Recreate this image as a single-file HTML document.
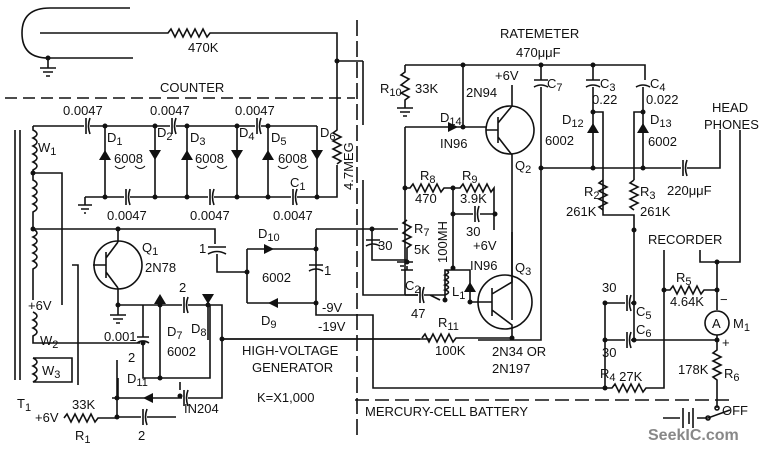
<!DOCTYPE html>
<html><head><meta charset="utf-8"><style>
html,body{margin:0;padding:0;background:#fff;}
svg{display:block;}
text{font-family:"Liberation Sans",sans-serif;font-size:13px;fill:#111;}
.s{font-size:11px;}
</style></head><body>
<svg width="768" height="450" viewBox="0 0 768 450" xmlns="http://www.w3.org/2000/svg">
<g fill="none" stroke="#111" stroke-width="1.6">
<path d="M130,8 H50 Q22,8 22,33 Q22,58 48,58 H133"/>
<path d="M40,33 H168 l3,-4 l4,8 l4,-8 l4,8 l4,-8 l4,8 l4,-8 l4,8 l4,-8 l4,8 l3,-4 H337 V61 H363"/>
<path d="M48,58 V68 M40,68 H56 M43,72 H53 M46,76 H50"/>
<path d="M5,98 H355" stroke-dasharray="12,6"/>
<path d="M357,20 V440" stroke-dasharray="16,5"/>
<path d="M355,400 H735" stroke-dasharray="14,6"/>
<path d="M363,61 V125 M363,180 V295 H418"/>
<path d="M33,126 H84 M90,126 H170 M176,126 H255 M261,126 H317"/>
<path d="M86,118 V134 M90,118 Q87,126 90,134 M172,118 V134 M176,118 Q173,126 176,134 M257,118 V134 M261,118 Q258,126 261,134"/>
<path d="M85,197 H124 M130,197 H208 M214,197 H291 M297,197 H337 V165"/>
<path d="M126,189 V205 M130,189 Q127,197 130,205 M210,189 V205 M214,189 Q211,197 214,205 M293,189 V205 M297,189 Q294,197 297,205"/>
<path d="M85,197 V205 M78,205 H92 M81,209 H89 M84,213 H86"/>
<path d="M105,126 V197 M155,126 V197 M187,126 V197 M237,126 V197 M268,126 V197 M317,126 V197"/>
<path d="M337,61 V130 l-4,3 l8,4 l-8,4 l8,4 l-8,4 l8,4 l-8,4 l8,4 l-4,3"/>
<path d="M115,166 q5,5 10,0 M145,166 q-5,5 -10,0 M197,166 q5,5 10,0 M227,166 q-5,5 -10,0 M278,166 q5,5 10,0 M308,166 q-5,5 -10,0" stroke-width="1"/>
<path d="M15,130 V380 M20,130 V380"/>
<path d="M33,126 V130 q8,4 0,8 q8,4 0,8 q8,4 0,8 q8,4 0,8 q8,4 0,8 V180 q8,4 0,8 q8,4 0,8 q8,4 0,8 q8,4 0,8 V229 q8,4 0,8 q8,4 0,8 q8,4 0,8 q8,4 0,8 q8,4 0,8 V300"/>
<path d="M33,173 H62 V305 M33,229 H215 V244 M118,229 V242"/>
<path d="M33,312 q8,4 0,8 q8,4 0,8 q8,4 0,8 V343 H140"/>
<path d="M33,358 q8,4 0,8 q8,4 0,8 q8,4 0,8 H72 V358 H33"/>
<path d="M72,265 H78 V385 M118,288 V305 H143 M118,305 V315 M110,315 H126 M113,319 H123 M116,323 H120"/>
<path d="M208,247 H226 M208,254 Q217,249 226,254 M217,254 V272 H247"/>
<circle cx="118" cy="265" r="24"/>
<path d="M93,265 H106 M106,252 V278 M106,258 L118,242 M106,272 L118,288"/>
<path d="M143,305 V337 M137,337 H149 M137,343 Q143,339 149,343 M143,343 V378 H210 V305 M143,305 H182 M188,305 H222 V339 H430"/>
<path d="M184,297 V313 M188,297 Q185,305 188,313"/>
<path d="M160,305 V378 M208,305 V340"/>
<path d="M118,378 V398 H112 M117,398 H182 M188,398 H222 V339"/>
<path d="M184,390 V406 M188,390 Q185,398 188,406 M180,382 V390"/>
<path d="M117,360 V417 H141 M147,417 H176 M64,418 l3,-4 l4,8 l4,-8 l4,8 l4,-8 l4,8 l4,-8 l4,8 l3,-4 H117"/>
<path d="M143,409 V425 M147,409 Q144,417 147,425"/>
<path d="M247,249 V303 M316,229 V303 M247,249 H316 M247,303 H316 M316,229 H370"/>
<path d="M309,265 H323 M309,271 Q316,267 323,271"/>
<path d="M316,303 V315 H373 V388 H605"/>
<path d="M405,65 H645 V80 M405,65 V72 l-4,3 l8,4 l-4,3 l-4,3 l8,4 l-8,4 l8,4 l-4,3 V108 M397,108 H413 M400,112 H410 M403,116 H407"/>
<path d="M463,65 V127 M405,127 H463 H486 M405,127 V295"/>
<circle cx="510" cy="130" r="24"/>
<path d="M486,130 H498 M498,117 V143 M498,123 L512,106 V85 M498,137 L512,155 V320"/>
<path d="M541,65 V80 M534,80 H548 M534,87 Q541,83 548,87 M541,87 V168 V340 H478"/>
<path d="M593,65 V80 M586,80 H600 M586,87 Q593,83 600,87 M593,87 V168 M593,112 H603 V215 H634 V340"/>
<path d="M643,87 V168 M636,87 Q643,83 650,87 M643,112 H634 V180 M541,168 H681 M687,168 H720 V130 M740,130 V262 H717"/>
<path d="M683,160 V176 M687,160 Q684,168 687,176"/>
<path d="M603,180 l-4,3 l8,4 l-8,4 l8,4 l-8,4 l8,4 l-8,4 l4,3 M634,180 l-4,3 l8,4 l-8,4 l8,4 l-8,4 l8,4 l-8,4 l4,3"/>
<path d="M405,188 H410 l3,-4 l4,8 l4,-8 l4,8 l4,-8 l4,8 l4,-8 l4,8 l3,-4 H460 l3,-4 l4,8 l4,-8 l4,8 l4,-8 l4,8 l4,-8 l4,8 l3,-4 V230 M453,188 V268 M453,214 H473 M480,214 H495 M475,206 V222 M479,206 Q476,214 479,222"/>
<path d="M407,220 l-4,3 l8,4 l-4,3 l-4,3 l8,4 l-8,4 l8,4 l-4,3 V262 M397,262 H413 M400,266 H404 M407,266 V270 M401,270 H413"/>
<path d="M370,229 H398 M372,229 V260 H407 M366,240 H380 M366,246 Q373,242 380,246"/>
<path d="M405,295 H418 M424,295 H445 V270 H470 V302 H482 M430,295 L440,300 M445,270 q7,2 0,5 q7,2 0,5 q7,2 0,5 q7,2 0,5 q7,2 0,5 V300"/>
<path d="M420,287 V303 M424,287 Q421,295 424,303"/>
<circle cx="505" cy="302" r="27"/>
<path d="M482,302 H492 M492,288 V316 M492,294 L512,282 V232 M492,310 L512,325 V338"/>
<path d="M422,338 l3,-4 l4,8 l4,-8 l4,8 l4,-8 l4,8 l4,-8 l4,8 l3,-4 H512"/>
<path d="M222,339 H420 M605,303 V388 M605,303 H625 M631,303 H634 M605,340 H625 M631,340 H717"/>
<path d="M627,295 V311 M631,295 Q628,303 631,311 M627,332 V348 M631,332 Q628,340 631,348"/>
<path d="M605,388 H612 l3,-4 l4,8 l4,-8 l4,8 l4,-8 l4,8 l4,-8 l4,8 l3,-4 H664 V250 M664,290 H670 l3,-4 l4,8 l4,-8 l4,8 l4,-8 l4,8 l4,-8 l4,8 l3,-4 H717 V310 M700,250 V262 H717 V290"/>
<circle cx="717" cy="323" r="12"/>
<path d="M717,335 V350 l-4,3 l8,4 l-8,4 l8,4 l-8,4 l8,4 l-8,4 l4,3 V408"/>
<path d="M663,418 H680 M683,408 V428 M689,412 V424 M693,408 V428 M697,418 H708 L730,410"/>
<circle cx="717" cy="408" r="2"/>
<circle cx="708" cy="418" r="2"/>
</g>
<g fill="#111">
<path d="M99,160 L111,160 L105,150 Z M149,150 L161,150 L155,160 Z M181,160 L193,160 L187,150 Z M231,150 L243,150 L237,160 Z M262,160 L274,160 L268,150 Z M311,150 L323,150 L317,160 Z"/>
<path d="M154,304 L166,304 L160,294 Z M202,294 L214,294 L208,304 Z M264,244 L274,249 L264,254 Z M278,298 L268,303 L278,308 Z"/>
<path d="M448,122 L458,127 L448,132 Z M587,133 L599,133 L593,123 Z M637,133 L649,133 L643,123 Z M464,292 L476,292 L470,282 Z"/>
<path d="M143,398 L153,393 L153,403 Z"/>
<circle cx="105" cy="126" r="2.5"/><circle cx="155" cy="126" r="2.5"/><circle cx="187" cy="126" r="2.5"/><circle cx="237" cy="126" r="2.5"/><circle cx="268" cy="126" r="2.5"/>
<circle cx="105" cy="197" r="2.5"/><circle cx="155" cy="197" r="2.5"/><circle cx="187" cy="197" r="2.5"/><circle cx="237" cy="197" r="2.5"/><circle cx="268" cy="197" r="2.5"/><circle cx="317" cy="197" r="2.5"/>
<circle cx="337" cy="61" r="2.5"/><circle cx="48" cy="58" r="2.5"/><circle cx="33" cy="173" r="2.5"/><circle cx="33" cy="229" r="2.5"/><circle cx="118" cy="229" r="2.5"/>
<circle cx="118" cy="305" r="2.5"/><circle cx="160" cy="305" r="2.5"/><circle cx="208" cy="305" r="2.5"/><circle cx="143" cy="343" r="2.5"/><circle cx="160" cy="378" r="2.5"/><circle cx="222" cy="339" r="2.5"/>
<circle cx="117" cy="398" r="2.5"/><circle cx="117" cy="417" r="2.5"/><circle cx="180" cy="396" r="2.5"/>
<circle cx="247" cy="272" r="2.5"/><circle cx="316" cy="249" r="2.5"/><circle cx="316" cy="303" r="2.5"/>
<circle cx="463" cy="65" r="2.5"/><circle cx="541" cy="65" r="2.5"/><circle cx="593" cy="65" r="2.5"/><circle cx="463" cy="127" r="2.5"/>
<circle cx="541" cy="168" r="2.5"/><circle cx="593" cy="168" r="2.5"/><circle cx="643" cy="168" r="2.5"/><circle cx="593" cy="112" r="2.5"/><circle cx="643" cy="112" r="2.5"/>
<circle cx="405" cy="188" r="2.5"/><circle cx="453" cy="188" r="2.5"/><circle cx="453" cy="214" r="2.5"/><circle cx="495" cy="214" r="2.5"/><circle cx="372" cy="229" r="2.5"/><circle cx="407" cy="262" r="2.5"/>
<circle cx="453" cy="268" r="2.5"/><circle cx="445" cy="300" r="2.5"/><circle cx="470" cy="302" r="2.5"/><circle cx="512" cy="338" r="2.5"/>
<circle cx="634" cy="230" r="2.5"/><circle cx="605" cy="303" r="2.5"/><circle cx="634" cy="303" r="2.5"/><circle cx="605" cy="340" r="2.5"/><circle cx="634" cy="340" r="2.5"/><circle cx="605" cy="388" r="2.5"/>
<circle cx="664" cy="290" r="2.5"/><circle cx="717" cy="290" r="2.5"/><circle cx="717" cy="262" r="2.5"/><circle cx="717" cy="340" r="2.5"/>
</g>
<text x="188" y="52">470K</text>
<text x="160" y="92">COUNTER</text>
<text x="63" y="115">0.0047</text><text x="150" y="115">0.0047</text><text x="235" y="115">0.0047</text>
<text x="107" y="220">0.0047</text><text x="190" y="220">0.0047</text><text x="273" y="220">0.0047</text>
<text x="107" y="142">D<tspan class="s" dy="3">1</tspan></text>
<text x="157" y="137">D<tspan class="s" dy="3">2</tspan></text>
<text x="190" y="142">D<tspan class="s" dy="3">3</tspan></text>
<text x="239" y="137">D<tspan class="s" dy="3">4</tspan></text>
<text x="271" y="142">D<tspan class="s" dy="3">5</tspan></text>
<text x="320" y="137">D<tspan class="s" dy="3">6</tspan></text>
<text x="114" y="163">6008</text><text x="195" y="163">6008</text><text x="278" y="163">6008</text>
<text x="290" y="187">C<tspan class="s" dy="3">1</tspan></text>
<text transform="translate(353,190) rotate(-90)">4.7MEG</text>
<text x="38" y="152">W<tspan class="s" dy="3">1</tspan></text>
<text x="142" y="252">Q<tspan class="s" dy="3">1</tspan></text>
<text x="145" y="272">2N78</text>
<text x="199" y="253">1</text>
<text x="179" y="292">2</text>
<text x="28" y="310">+6V</text>
<text x="40" y="345">W<tspan class="s" dy="3">2</tspan></text>
<text x="42" y="375">W<tspan class="s" dy="3">3</tspan></text>
<text x="104" y="341">0.001</text>
<text x="128" y="362">2</text>
<text x="167" y="336">D<tspan class="s" dy="3">7</tspan></text>
<text x="191" y="333">D<tspan class="s" dy="3">8</tspan></text>
<text x="167" y="356">6002</text>
<text x="127" y="383">D<tspan class="s" dy="3">11</tspan></text>
<text x="184" y="413">IN204</text>
<text x="17" y="408">T<tspan class="s" dy="3">1</tspan></text>
<text x="72" y="409">33K</text>
<text x="35" y="422">+6V</text>
<text x="75" y="440">R<tspan class="s" dy="3">1</tspan></text>
<text x="138" y="440">2</text>
<text x="258" y="238">D<tspan class="s" dy="3">10</tspan></text>
<text x="262" y="282">6002</text>
<text x="261" y="325">D<tspan class="s" dy="3">9</tspan></text>
<text x="324" y="275">1</text>
<text x="322" y="312">-9V</text>
<text x="318" y="331">-19V</text>
<text x="242" y="355">HIGH-VOLTAGE</text>
<text x="252" y="372">GENERATOR</text>
<text x="257" y="402">K=X1,000</text>
<text x="500" y="38">RATEMETER</text>
<text x="516" y="57">470μμF</text>
<text x="495" y="80">+6V</text>
<text x="466" y="97">2N94</text>
<text x="547" y="88">C<tspan class="s" dy="3">7</tspan></text>
<text x="380" y="93">R<tspan class="s" dy="3">10</tspan></text>
<text x="415" y="93">33K</text>
<text x="440" y="122">D<tspan class="s" dy="3">14</tspan></text>
<text x="440" y="148">IN96</text>
<text x="515" y="170">Q<tspan class="s" dy="3">2</tspan></text>
<text x="600" y="88">C<tspan class="s" dy="3">3</tspan></text>
<text x="592" y="104">0.22</text>
<text x="650" y="88">C<tspan class="s" dy="3">4</tspan></text>
<text x="646" y="104">0.022</text>
<text x="562" y="124">D<tspan class="s" dy="3">12</tspan></text>
<text x="545" y="145">6002</text>
<text x="650" y="124">D<tspan class="s" dy="3">13</tspan></text>
<text x="648" y="146">6002</text>
<text x="712" y="112">HEAD</text>
<text x="704" y="129">PHONES</text>
<text x="667" y="195">220μμF</text>
<text x="584" y="196">R<tspan class="s" dy="3">2</tspan></text>
<text x="566" y="216">261K</text>
<text x="640" y="196">R<tspan class="s" dy="3">3</tspan></text>
<text x="640" y="216">261K</text>
<text x="420" y="180">R<tspan class="s" dy="3">8</tspan></text>
<text x="415" y="203">470</text>
<text x="462" y="180">R<tspan class="s" dy="3">9</tspan></text>
<text x="460" y="203">3.9K</text>
<text x="466" y="236">30</text>
<text x="473" y="250">+6V</text>
<text x="414" y="233">R<tspan class="s" dy="3">7</tspan></text>
<text x="414" y="254">5K</text>
<text x="378" y="250">30</text>
<text transform="translate(447,263) rotate(-90)">100MH</text>
<text x="470" y="270">IN96</text>
<text x="452" y="296">L<tspan class="s" dy="3">1</tspan></text>
<text x="515" y="272">Q<tspan class="s" dy="3">3</tspan></text>
<text x="405" y="290">C<tspan class="s" dy="3">2</tspan></text>
<text x="411" y="318">47</text>
<text x="438" y="327">R<tspan class="s" dy="3">11</tspan></text>
<text x="435" y="355">100K</text>
<text x="492" y="356">2N34 OR</text>
<text x="492" y="373">2N197</text>
<text x="648" y="244">RECORDER</text>
<text x="602" y="292">30</text>
<text x="636" y="316">C<tspan class="s" dy="3">5</tspan></text>
<text x="636" y="334">C<tspan class="s" dy="3">6</tspan></text>
<text x="602" y="357">30</text>
<text x="600" y="378">R<tspan class="s" dy="3">4</tspan> 27K</text>
<text x="676" y="282">R<tspan class="s" dy="3">5</tspan></text>
<text x="670" y="306">4.64K</text>
<text x="720" y="304">−</text>
<text x="712" y="328">A</text>
<text x="733" y="328">M<tspan class="s" dy="3">1</tspan></text>
<text x="722" y="347">+</text>
<text x="678" y="374">178K</text>
<text x="724" y="378">R<tspan class="s" dy="3">6</tspan></text>
<text x="722" y="415">OFF</text>
<text x="365" y="416">MERCURY-CELL BATTERY</text>
<text x="648" y="440" style="font-size:16px;font-weight:bold;fill:#888">SeekIC.com</text>
</svg>
</body></html>
